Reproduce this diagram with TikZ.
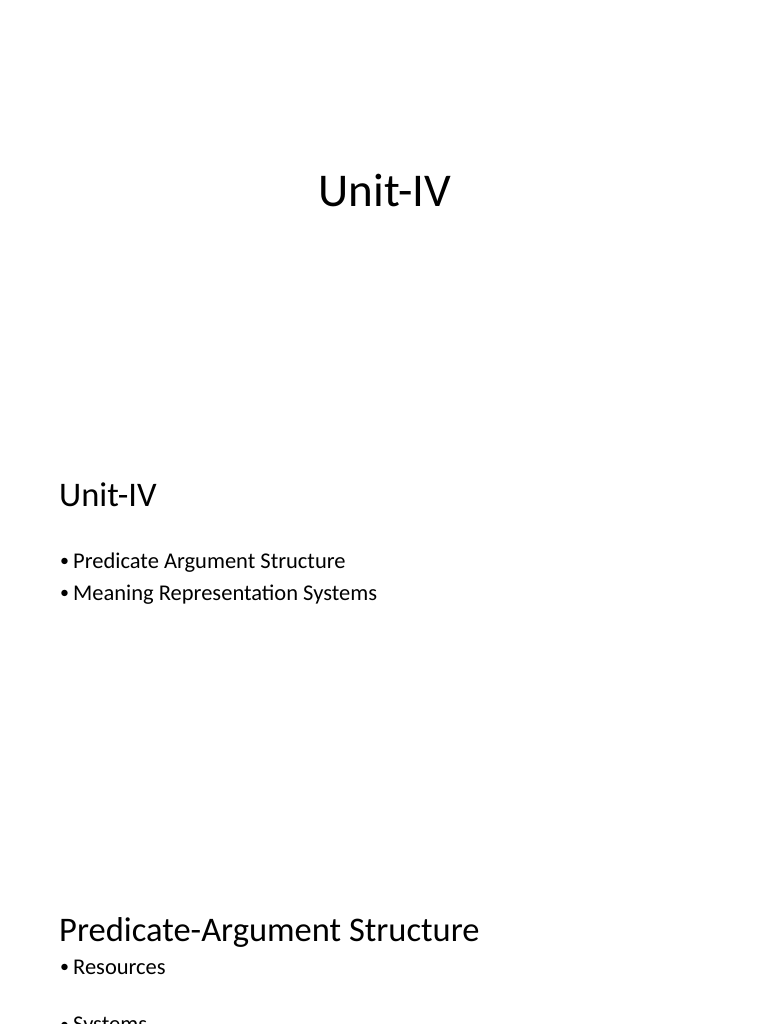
\documentclass[tikz,border=0pt]{standalone}
\usepackage{fontspec}
\setmainfont{Carlito}
\begin{document}
\begin{tikzpicture}[x=1pt,y=1pt,
  big/.style={anchor=base west,inner sep=0pt,font=\fontsize{34.5}{40}\selectfont},
  item/.style={anchor=base west,inner sep=0pt,font=\fontsize{22.5}{26}\selectfont},
  dot/.style={anchor=base west,inner sep=0pt,font=\fontsize{18}{22}\selectfont}]
\useasboundingbox (0,0) rectangle (768,1024);
\clip (0,0) rectangle (768,1024);
\node[anchor=base,inner sep=0pt,font=\fontsize{47}{54}\selectfont] (t1) at (385,1024-207) {Unit-IV};
\node[big] (t2) at (59,1024-507) {Unit-IV};
\node[dot] (d1) at (60,1024-567) {•};
\node[item] (b1) at (73,1024-569) {Predicate Argument Structure};
\node[dot] (d2) at (60,1024-599) {•};
\node[item] (b2) at (73,1024-601) {Meaning Representation Systems};
\node[big] (t3) at (59,1024-942) {Predicate-Argument Structure};
\node[dot] (d3) at (60,1024-973) {•};
\node[item] (b3) at (73,1024-975) {Resources};
\node[dot] (d4) at (60,1024-1030) {•};
\node[item] (b4) at (73,1024-1032) {Systems};
\end{tikzpicture}
\end{document}
